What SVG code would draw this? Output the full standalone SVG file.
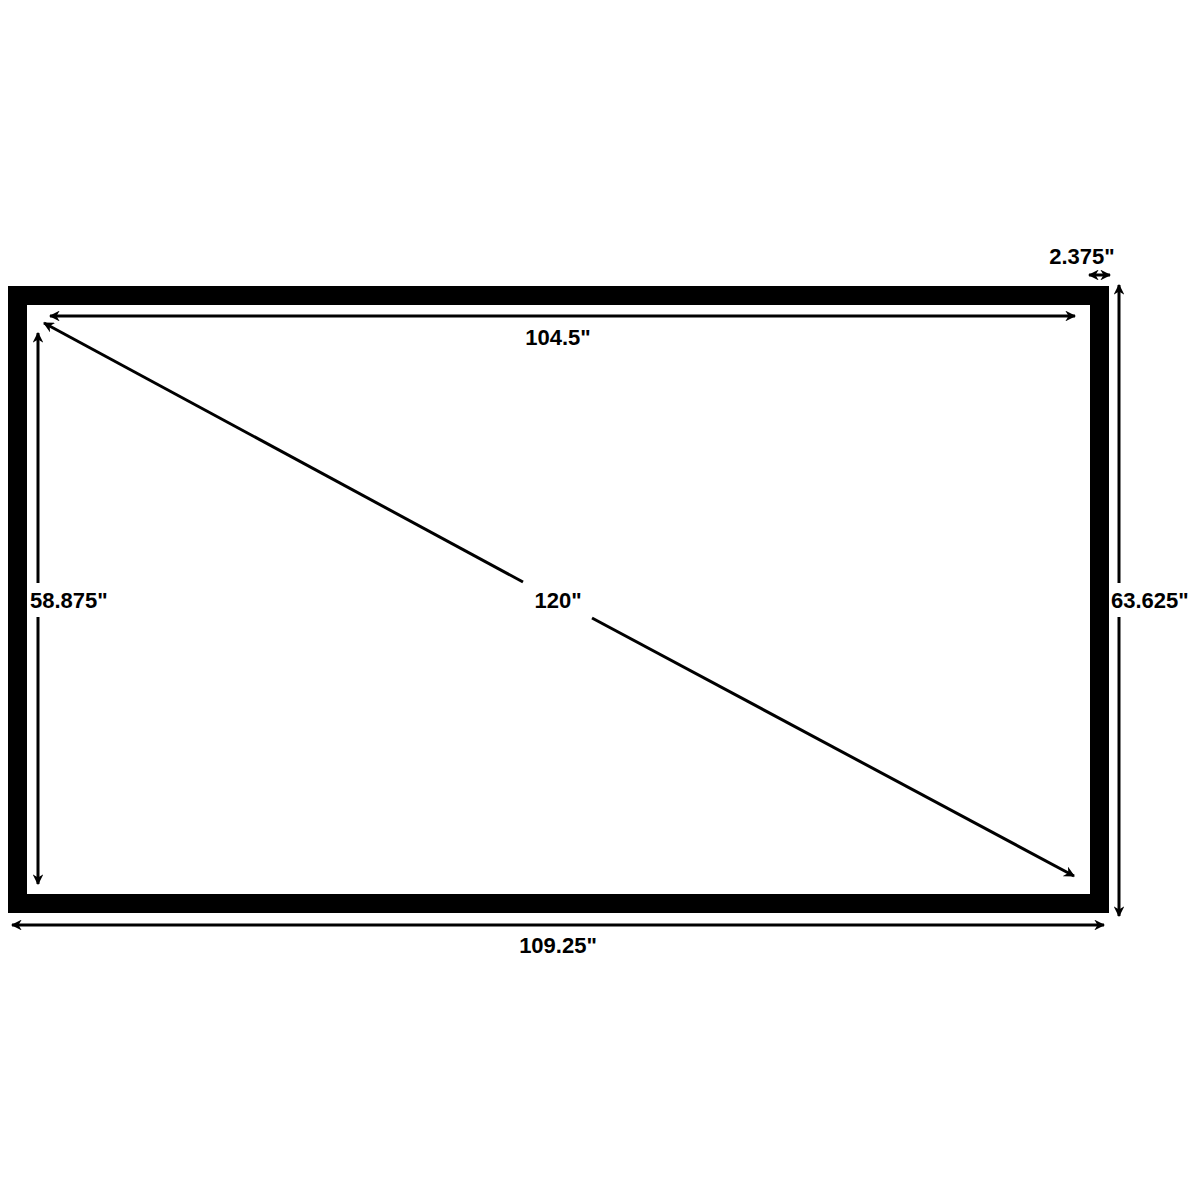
<svg xmlns="http://www.w3.org/2000/svg" width="1200" height="1200" viewBox="0 0 1200 1200">
<style>
.dim{stroke:#000;stroke-width:3;fill:none}
.lbl{font-family:"Liberation Sans",Arial,sans-serif;font-weight:bold;font-size:22px;fill:#000}
</style>
<defs>
<marker id="ah" viewBox="0 0 10 10" refX="9" refY="5" markerWidth="3.6" markerHeight="3.6" orient="auto-start-reverse" markerUnits="strokeWidth">
<path d="M0,0 L10,5 L0,10 L3,5 Z" fill="#000"/>
</marker>
</defs>
<rect width="1200" height="1200" fill="#fff"/>
<g id="frame">
<rect x="17.5" y="295.5" width="1082" height="608" fill="none" stroke="#000" stroke-width="19"/>
</g>
<g id="connectors">
<line class="dim" x1="50" y1="316" x2="1075" y2="316" marker-start="url(#ah)" marker-end="url(#ah)"/>
<line class="dim" x1="12" y1="925" x2="1104" y2="925" marker-start="url(#ah)" marker-end="url(#ah)"/>
<line class="dim" x1="38" y1="333" x2="38" y2="583" marker-start="url(#ah)"/>
<line class="dim" x1="38" y1="617" x2="38" y2="884" marker-end="url(#ah)"/>
<line class="dim" x1="1119" y1="285" x2="1119" y2="583" marker-start="url(#ah)"/>
<line class="dim" x1="1119" y1="617" x2="1119" y2="916" marker-end="url(#ah)"/>
<line class="dim" x1="44" y1="323" x2="523" y2="582" marker-start="url(#ah)"/>
<line class="dim" x1="592" y1="618" x2="1074" y2="876" marker-end="url(#ah)"/>
<line class="dim" x1="1089" y1="275" x2="1110" y2="275" marker-start="url(#ah)" marker-end="url(#ah)"/>
</g>
<g id="labels">
<text class="lbl" x="558" y="345" text-anchor="middle">104.5"</text>
<text class="lbl" x="558" y="953" text-anchor="middle">109.25"</text>
<text class="lbl" x="30" y="608">58.875"</text>
<text class="lbl" x="1111" y="608">63.625"</text>
<text class="lbl" x="558" y="608" text-anchor="middle">120"</text>
<text class="lbl" x="1082" y="264" text-anchor="middle">2.375"</text>
</g>
</svg>
